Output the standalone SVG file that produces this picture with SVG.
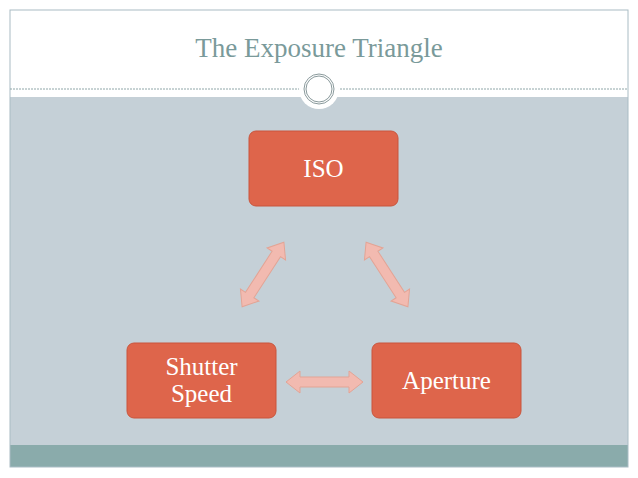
<svg xmlns="http://www.w3.org/2000/svg" width="638" height="478" viewBox="0 0 638 478">
<style>
.box{fill:#de654b;stroke:#c9553d;stroke-width:1}
.lbl{font-family:"Liberation Serif",Georgia,serif;font-size:25px;fill:#fff;text-anchor:middle}
.arr{fill:#f2bab0;stroke:#e3a495;stroke-width:1}
</style>
<defs>
<polygon id="dbl" points="-38.5,0 -24.5,-11 -24.5,-5 24.5,-5 24.5,-11 38.5,0 24.5,11 24.5,5 -24.5,5 -24.5,11"/>
</defs>
<rect width="638" height="478" fill="#fff"/>
<rect x="10" y="97" width="618" height="348" fill="#c5d0d7"/>
<rect x="10" y="445" width="618" height="22" fill="#8aabab"/>
<rect x="10" y="10" width="618" height="457" fill="none" stroke="#a9bcc4" stroke-width="1"/>
<line x1="10" y1="89" x2="628" y2="89" stroke="#8fa6a8" stroke-width="1" stroke-dasharray="2,1"/>
<circle cx="319" cy="89" r="20" fill="#fff"/>
<circle cx="319" cy="89" r="15" fill="none" stroke="#8a9a9c" stroke-width="1"/>
<circle cx="319" cy="89" r="13" fill="none" stroke="#8a9a9c" stroke-width="1"/>
<text x="319" y="57" font-family="'Liberation Serif',Georgia,serif" font-size="27" fill="#7a9a9a" text-anchor="middle">The Exposure Triangle</text>
<g id="connectors">
<use href="#dbl" class="arr" transform="translate(263,274.5) rotate(122.9)"/>
<use href="#dbl" class="arr" transform="translate(387,274.5) rotate(57.1)"/>
<use href="#dbl" class="arr" transform="translate(324.5,382)"/>
</g>
<g id="iso"><rect class="box" x="249" y="131" width="149" height="75" rx="7"/><text class="lbl" x="323.5" y="177">ISO</text></g>
<g id="shutter"><rect class="box" x="127" y="343" width="149" height="75" rx="7"/><text class="lbl" x="201.5" y="375">Shutter</text><text class="lbl" x="201.5" y="402">Speed</text></g>
<g id="aperture"><rect class="box" x="372" y="343" width="149" height="75" rx="7"/><text class="lbl" x="446.5" y="389">Aperture</text></g>
</svg>
